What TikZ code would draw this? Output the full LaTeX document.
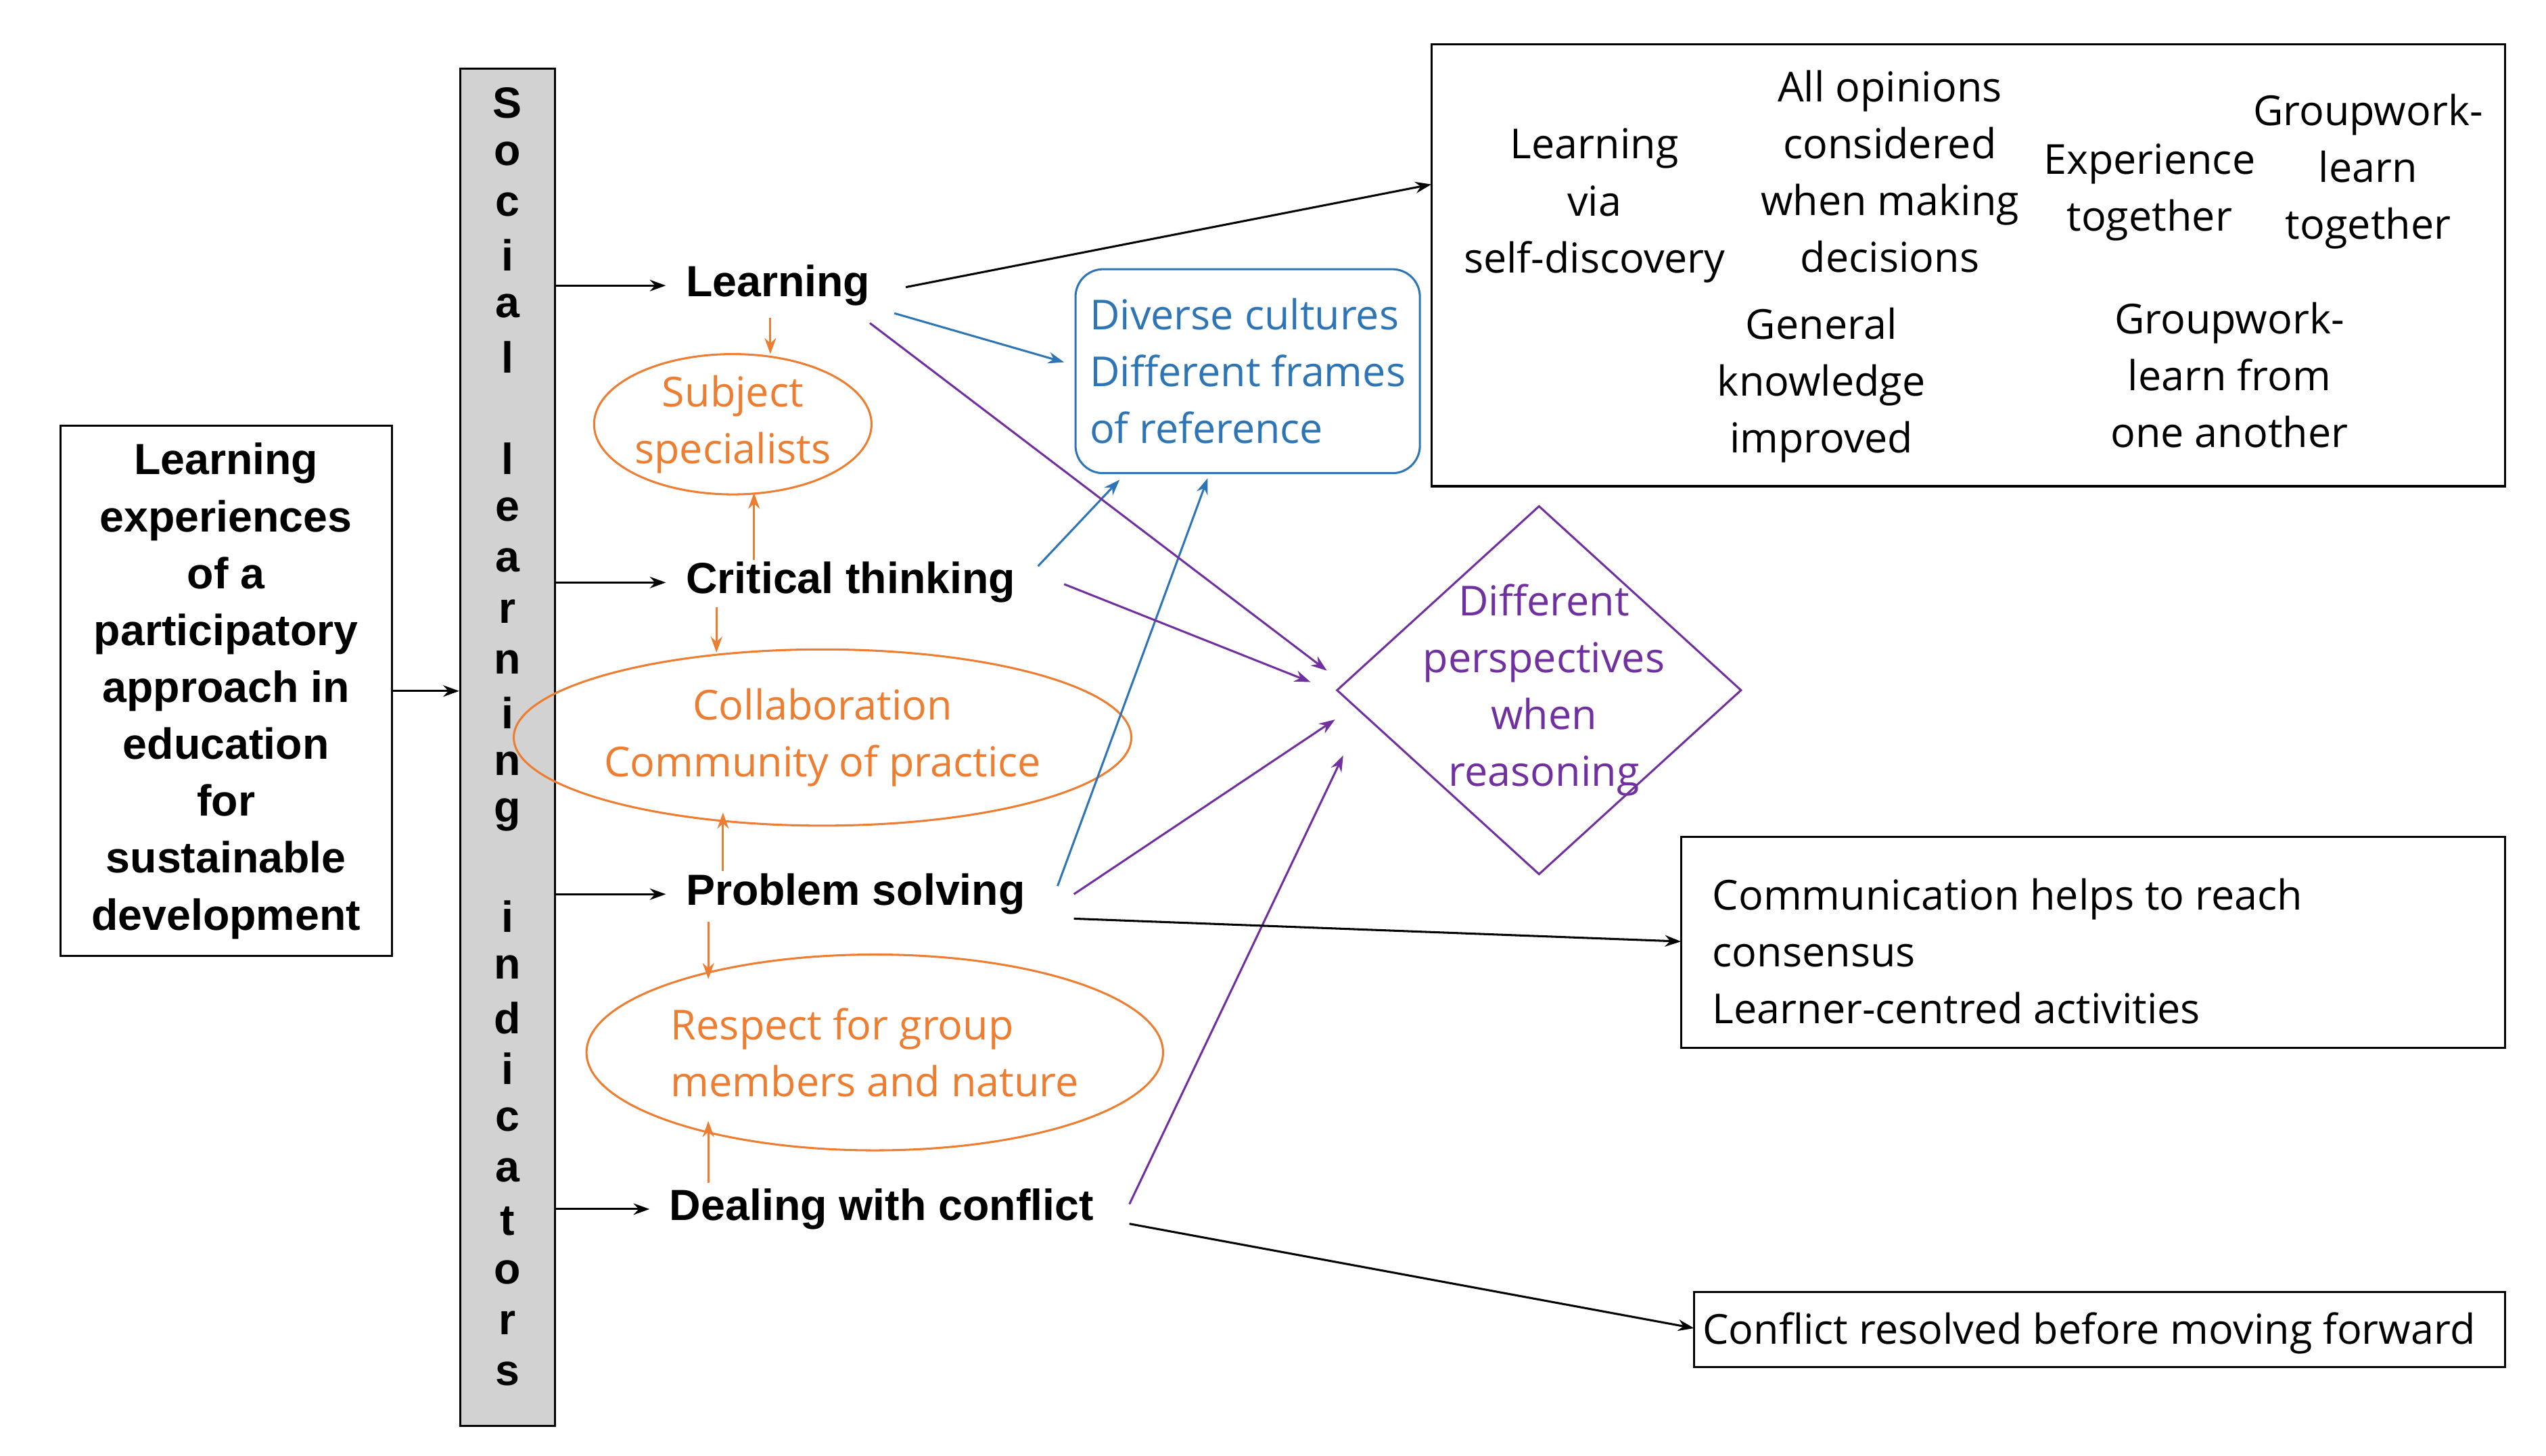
\documentclass[tikz,border=0pt]{standalone}
\usepackage{fontspec}
\setmainfont{Open Sans}
\newfontfamily\myarial{Liberation Sans}
\usetikzlibrary{shapes.geometric,arrows.meta}
\definecolor{ora}{HTML}{ED7D31}
\definecolor{blu}{HTML}{2E75B6}
\definecolor{pur}{HTML}{7030A0}
\begin{document}
\begin{tikzpicture}[x=0.025cm,y=-0.025cm,
 every node/.style={font=\fontsize{18}{24.8}\selectfont,inner sep=0pt},
 B/.style={font=\fontsize{19}{24.8}\selectfont\myarial\bfseries},
 ar/.style={-{Stealth[length=7pt,width=5pt]},line width=0.9pt},
 box/.style={draw,line width=0.9pt}]
\useasboundingbox (0,0) rectangle (1560,892);
\node[box,minimum width=203*0.025cm,minimum height=325*0.025cm,align=center,B] (L) at (138.5,423.5) {Learning\\experiences\\of a\\participatory\\approach in\\education\\for\\sustainable\\development};
\node[draw,fill=gray!35,line width=0.9pt,minimum width=58*0.025cm,minimum height=832*0.025cm] (bar) at (311,458) {};
\foreach \c [count=\i from 0] in {S,o,c,i,a,l,{},l,e,a,r,n,i,n,g,{},i,n,d,i,c,a,t,o,r,s}
  \node[B] at (311,{63+\i*31.16}) {\c};
\draw[ar] (L.east) -- (bar.west|-L.east);
\node[B,anchor=west] (n1) at (420,175) {Learning};
\node[B,anchor=west] (n2) at (420,357) {Critical thinking};
\node[B,anchor=west] (n3) at (420,548) {Problem solving};
\node[B,anchor=west] (n4) at (410,741) {Dealing with conflict};
\foreach \n/\y/\x in {n1/175/408,n2/357/408,n3/548/408,n4/741/398}
  \draw[ar] (340,\y) -- (\x,\y);
\node[ellipse,draw=ora,text=ora,line width=0.9pt,minimum width=160*0.025cm,minimum height=86*0.025cm,align=center] (e1) at (449,260) {Subject\\specialists};
\node[ellipse,draw=ora,text=ora,line width=0.9pt,minimum width=308*0.025cm,minimum height=108*0.025cm,align=center] (e2) at (504,452) {Collaboration\\Community of practice};
\node[ellipse,draw=ora,text=ora,line width=0.9pt,minimum width=290*0.025cm,minimum height=120*0.025cm,align=left] (e3) at (536,645) {Respect for group\\members and nature};
\begin{scope}[ora]
\draw[ar] (472,195) -- (472,217);
\draw[ar] (462,343) -- (462,302);
\draw[ar] (439,372) -- (439,400);
\draw[ar] (443,534) -- (443,498);
\draw[ar] (434,565) -- (434,600);
\draw[ar] (434,725) -- (434,687);
\end{scope}
\node[draw=blu,text=blu,rounded corners=12pt,line width=0.9pt,minimum width=211*0.025cm,minimum height=125*0.025cm,align=left] (bb) at (764.5,227.5) {Diverse cultures\\Different frames\\of reference};
\begin{scope}[blu]
\draw[ar] (548,192) -- (652,222);
\draw[ar] (636,347) -- (686,294);
\draw[ar] (648,543) -- (740,293);
\end{scope}
\node[diamond,draw=pur,text=pur,line width=0.9pt,minimum width=248*0.025cm,minimum height=226*0.025cm,aspect=1.1,align=center] (dm) at (943,423) {};
\node[text=pur,align=center] at (946,423) {Different\\perspectives\\when\\reasoning};
\begin{scope}[pur]
\draw[ar] (533,198) -- (813,411);
\draw[ar] (652,358) -- (803,418);
\draw[ar] (658,548) -- (818,441);
\draw[ar] (692,738) -- (823,463);
\end{scope}
\node[box,minimum width=658*0.025cm,minimum height=271*0.025cm] (tr) at (1206,162.5) {};
\node[align=center] at (977,126) {Learning\\via\\self-discovery};
\node[align=center] at (1158,105) {All opinions\\considered\\when making\\decisions};
\node[align=center] at (1317,118) {Experience\\together};
\node[align=center] at (1451,105) {Groupwork-\\learn\\together};
\node[align=center] at (1116,236) {General\\knowledge\\improved};
\node[align=center] at (1366,230) {Groupwork-\\learn from\\one another};
\node[box,minimum width=505*0.025cm,minimum height=129*0.025cm] (b2) at (1282.5,577.5) {};
\node[anchor=west,align=left] at (1049,583) {Communication helps to reach\\consensus\\Learner-centred activities};
\node[box,minimum width=497*0.025cm,minimum height=46*0.025cm] (b3) at (1286.5,815) {};
\node[anchor=west] at (1043,817) {Conflict resolved before moving forward};
\draw[ar] (555,176) -- (877,113);
\draw[ar] (658,563) -- (1030,577);
\draw[ar] (692,750) -- (1038,814);
\end{tikzpicture}
\end{document}
